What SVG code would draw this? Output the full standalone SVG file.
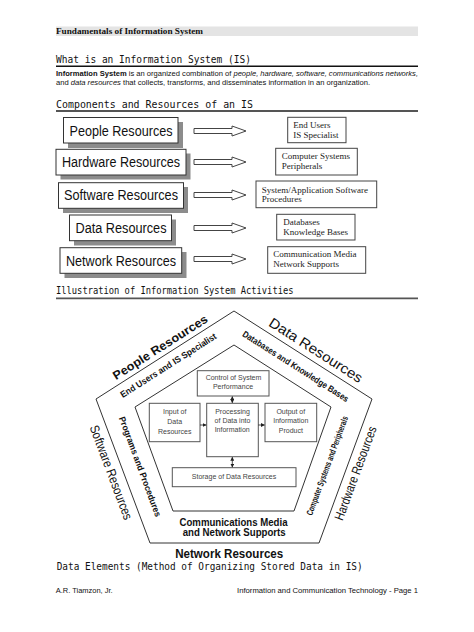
<svg xmlns="http://www.w3.org/2000/svg" width="474" height="632" viewBox="0 0 474 632">
<style>
.hd{font-family:"DejaVu Sans Mono","Liberation Mono",monospace;fill:#111}
.ar{font-family:"Liberation Sans",Arial,sans-serif;fill:#111}
.sf{font-family:"Liberation Serif","Times New Roman",serif;fill:#222;font-size:9px}
.lb{font-family:"Liberation Sans",Arial,sans-serif;fill:#111;font-size:14px;text-anchor:middle}
.box{fill:#fff;stroke:#333;stroke-width:1}
.sh{fill:#8c8c8c}
.rb{fill:#fff;stroke:#444;stroke-width:1}
.pg{fill:none;stroke:#333;stroke-width:1}
.ib{fill:#fff;stroke:#555;stroke-width:1}
.it{font-family:"Liberation Sans",Arial,sans-serif;fill:#444;font-size:7px;text-anchor:middle}
.pl{font-family:"Liberation Sans",Arial,sans-serif;fill:#111;text-anchor:middle}
.ln{stroke:#222;stroke-width:0.8;fill:none}
</style>
<defs>
<path id="blk" d="M0,-2.5 H38 V-5 L52,0 L38,5 V2.5 H0 Z" fill="#fff" stroke="#444" stroke-width="1"/>
<marker id="ah" viewBox="0 0 6 6" refX="5.5" refY="3" markerWidth="5" markerHeight="5" orient="auto-start-reverse">
<path d="M0,0 L6,3 L0,6 Z" fill="#222"/>
</marker>
</defs>
<rect width="474" height="632" fill="#fff"/>

<g id="header">
<rect x="56" y="26.5" width="362" height="9.5" fill="#e4e4e4"/>
<text x="56" y="34.3" font-family="Liberation Serif,serif" font-weight="bold" font-size="8.5" fill="#111" textLength="147" lengthAdjust="spacingAndGlyphs">Fundamentals of Information System</text>
</g>

<g id="intro">
<text class="hd" x="56" y="62.7" font-size="10.5" textLength="195" lengthAdjust="spacingAndGlyphs">What is an Information System (IS)</text>
<line x1="56" y1="66.3" x2="418" y2="66.3" stroke="#111" stroke-width="1.5"/>
<text class="ar" x="56" y="75.5" font-size="8" textLength="362" lengthAdjust="spacingAndGlyphs"><tspan font-weight="bold">Information System</tspan> is an organized combination of <tspan font-style="italic">people, hardware, software, communications networks,</tspan></text>
<text class="ar" x="56" y="85.3" font-size="8" textLength="314" lengthAdjust="spacingAndGlyphs">and <tspan font-style="italic">data resources</tspan> that collects, transforms, and disseminates information in an organization.</text>
</g>

<g id="components-heading">
<text class="hd" x="56" y="107.5" font-size="9.8" textLength="197" lengthAdjust="spacingAndGlyphs">Components and Resources of an IS</text>
<line x1="56" y1="111" x2="418" y2="111" stroke="#555" stroke-width="1.8"/>
</g>

<g id="people-resources">
<rect class="sh" x="68" y="122" width="115" height="26"/>
<rect class="box" x="63.5" y="117.5" width="114.5" height="25.5"/>
<text class="lb" x="121" y="135.5" textLength="103" lengthAdjust="spacingAndGlyphs">People Resources</text>
</g>
<g id="hardware-resources">
<rect class="sh" x="60.5" y="153.5" width="130" height="26"/>
<rect class="box" x="56" y="149.3" width="130" height="25.7"/>
<text class="lb" x="121" y="167" textLength="118" lengthAdjust="spacingAndGlyphs">Hardware Resources</text>
</g>
<g id="software-resources">
<rect class="sh" x="63" y="187" width="125" height="26"/>
<rect class="box" x="58.5" y="182.7" width="125" height="25.6"/>
<text class="lb" x="121" y="200.3" textLength="114" lengthAdjust="spacingAndGlyphs">Software Resources</text>
</g>
<g id="data-resources">
<rect class="sh" x="74" y="219.5" width="102" height="26"/>
<rect class="box" x="69.5" y="215" width="102" height="25.7"/>
<text class="lb" x="121" y="232.5" textLength="91" lengthAdjust="spacingAndGlyphs">Data Resources</text>
</g>
<g id="network-resources">
<rect class="sh" x="64.5" y="252" width="122" height="26"/>
<rect class="box" x="60" y="247.7" width="121.7" height="25.6"/>
<text class="lb" x="121" y="265.8" textLength="110" lengthAdjust="spacingAndGlyphs">Network Resources</text>
</g>

<g id="component-arrows">
<use href="#blk" x="194" y="131"/>
<use href="#blk" x="194" y="162"/>
<use href="#blk" x="194" y="195"/>
<use href="#blk" x="194" y="228"/>
<use href="#blk" x="194" y="259"/>
</g>

<g id="people-items">
<rect class="rb" x="287.7" y="117.3" width="58.3" height="25.4"/>
<text class="sf" x="293.3" y="127.5">End Users</text>
<text class="sf" x="293.3" y="137.5">IS Specialist</text>
</g>
<g id="hardware-items">
<rect class="rb" x="275.7" y="148.3" width="81.6" height="26.7"/>
<text class="sf" x="281.7" y="158.5">Computer Systems</text>
<text class="sf" x="281.7" y="169">Peripherals</text>
</g>
<g id="software-items">
<rect class="rb" x="256" y="181" width="120.7" height="26.7"/>
<text class="sf" x="261.7" y="192.7">System/Application Software</text>
<text class="sf" x="261.7" y="201.9">Procedures</text>
</g>
<g id="data-items">
<rect class="rb" x="276.7" y="214.3" width="78.3" height="25.7"/>
<text class="sf" x="283.3" y="225">Databases</text>
<text class="sf" x="283.3" y="235">Knowledge Bases</text>
</g>
<g id="network-items">
<rect class="rb" x="267.7" y="246.7" width="98" height="26.6"/>
<text class="sf" x="273.3" y="257.3">Communication Media</text>
<text class="sf" x="273.3" y="266.7">Network Supports</text>
</g>

<g id="illustration-heading">
<text class="hd" x="56" y="294" font-size="9.8" textLength="237.5" lengthAdjust="spacingAndGlyphs">Illustration of Information System Activities</text>
<line x1="56" y1="298.3" x2="418" y2="298.3" stroke="#555" stroke-width="1.8"/>
</g>

<g id="pentagons">
<polygon class="pg" points="234,311 372,399 319,543 150,543 96,399"/>
<polygon class="pg" points="234,345 331,407 294,511 173,511 135,407"/>
</g>

<g id="pentagon-labels">
<text class="pl" transform="translate(162.4,350.8) rotate(-32.5)" font-size="12" font-weight="bold" textLength="110" lengthAdjust="spacingAndGlyphs">People Resources</text>
<text class="pl" transform="translate(170,368) rotate(-32.5)" font-size="9" font-weight="bold" textLength="112" lengthAdjust="spacingAndGlyphs">End Users and IS Specialist</text>
<text class="pl" transform="translate(313.3,354.2) rotate(32.5)" font-size="14" textLength="108" lengthAdjust="spacingAndGlyphs">Data Resources</text>
<text class="pl" transform="translate(294,369) rotate(32.5)" font-size="9" font-weight="bold" textLength="124" lengthAdjust="spacingAndGlyphs">Databases and Knowledge Bases</text>
<text class="pl" transform="translate(107,474) rotate(69.5)" font-size="13" textLength="100" lengthAdjust="spacingAndGlyphs">Software Resources</text>
<text class="pl" transform="translate(137.2,467.7) rotate(69.7)" font-size="9" font-weight="bold" textLength="106" lengthAdjust="spacingAndGlyphs">Programs and Procedures</text>
<text class="pl" transform="translate(359.7,474.7) rotate(-69.8)" font-size="13" textLength="99" lengthAdjust="spacingAndGlyphs">Hardware Resources</text>
<text class="pl" transform="translate(330.1,466.8) rotate(-69.8)" font-size="9" font-weight="bold" textLength="105" lengthAdjust="spacingAndGlyphs">Computer Systems and Peripherals</text>
<text class="pl" x="233.5" y="525.7" font-size="10" font-weight="bold" textLength="108" lengthAdjust="spacingAndGlyphs">Communications Media</text>
<text class="pl" x="234.2" y="535.7" font-size="10" font-weight="bold" textLength="103" lengthAdjust="spacingAndGlyphs">and Network Supports</text>
<text class="pl" x="229.2" y="558.3" font-size="12" font-weight="bold" textLength="108" lengthAdjust="spacingAndGlyphs">Network Resources</text>
</g>

<g id="control">
<rect class="ib" x="197.3" y="370.7" width="71.7" height="25.3"/>
<text class="it" x="233.5" y="379.5">Control of System</text>
<text class="it" x="233" y="388.5" font-size="6.3">Performance</text>
</g>
<g id="input">
<rect class="ib" x="149.3" y="403.3" width="50.7" height="38.4"/>
<text class="it" x="174.7" y="414.3" font-size="7.5">Input of</text>
<text class="it" x="174.7" y="424.3" font-size="7.5">Data</text>
<text class="it" x="174.7" y="434" font-size="7.5">Resources</text>
</g>
<g id="processing">
<rect class="ib" x="206.7" y="403.3" width="51.6" height="53.4"/>
<text class="it" x="232.5" y="414.3" font-size="7.5">Processing</text>
<text class="it" x="232.5" y="423.3" font-size="7.5">of Data into</text>
<text class="it" x="232.2" y="432.3" font-size="5.8">Information</text>
</g>
<g id="output">
<rect class="ib" x="265" y="403.3" width="51.7" height="38.4"/>
<text class="it" x="290.8" y="414.3" font-size="7.5">Output of</text>
<text class="it" x="290.8" y="423.3" font-size="7.5">Information</text>
<text class="it" x="290.8" y="433.3" font-size="7.5">Product</text>
</g>
<g id="storage">
<rect class="ib" x="172.3" y="467.7" width="123.7" height="19"/>
<text class="it" x="234" y="478.8" font-size="7.5">Storage of Data Resources</text>
</g>

<g id="connectors">
<line class="ln" x1="200" y1="425" x2="206.2" y2="425" marker-end="url(#ah)"/>
<line class="ln" x1="258.3" y1="425" x2="264.5" y2="425" marker-end="url(#ah)"/>
<line class="ln" x1="232.3" y1="396.5" x2="232.3" y2="402.8" marker-start="url(#ah)" marker-end="url(#ah)"/>
<line class="ln" x1="232.3" y1="457.2" x2="232.3" y2="467.2" marker-start="url(#ah)" marker-end="url(#ah)"/>
</g>

<g id="footer">
<text class="hd" x="56.7" y="570" font-size="10.3" textLength="306" lengthAdjust="spacingAndGlyphs">Data Elements (Method of Organizing Stored Data in IS)</text>
<text class="ar" x="55.7" y="593" font-size="8" fill="#333" textLength="57" lengthAdjust="spacingAndGlyphs">A.R. Tiamzon, Jr.</text>
<text class="ar" x="237" y="593" font-size="8" fill="#333" textLength="181" lengthAdjust="spacingAndGlyphs">Information and Communication Technology - Page 1</text>
</g>
</svg>
